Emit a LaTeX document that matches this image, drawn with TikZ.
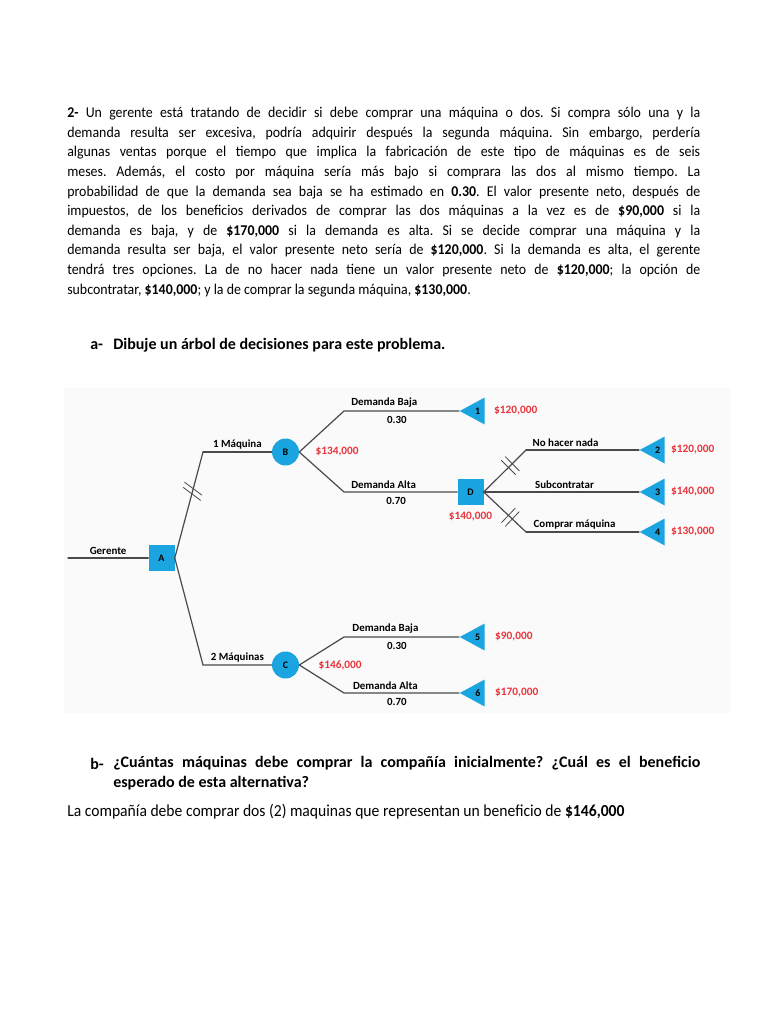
\documentclass[tikz,border=0pt]{standalone}
\usepackage{fontspec}
\setmainfont{Carlito}
\newfontfamily\condfont{Carlito}[FakeStretch=0.93]
\usetikzlibrary{positioning,shapes.geometric,decorations.markings}

\definecolor{nodeblue}{HTML}{1BA5E0}
\definecolor{valred}{HTML}{E8353D}
\definecolor{wire}{HTML}{4A4A4A}
\definecolor{panelgray}{HTML}{FAFAFA}

\tolerance=10000
\hyphenpenalty=10000
\frenchspacing

\tikzset{
  body/.style={font=\condfont\fontsize{11.2}{14.7}\selectfont, inner sep=0pt},
  heading/.style={font=\bfseries\fontsize{12}{15}\selectfont, inner sep=0pt},
  branch/.style={draw=wire, line width=0.9pt, line cap=round},
  decision/.style={rectangle, fill=nodeblue, minimum size=19.5pt, inner sep=0pt,
    font=\bfseries\fontsize{7.5}{9}\selectfont},
  chance/.style={circle, fill=nodeblue, minimum size=20.25pt, inner sep=0pt,
    font=\bfseries\fontsize{7.5}{9}\selectfont},
  payoff/.style={isosceles triangle, shape border rotate=180, isosceles triangle stretches,
    minimum width=20.25pt, minimum height=18.75pt, inner sep=0pt, fill=nodeblue, anchor=apex,
    font=\bfseries\fontsize{7.5}{9}\selectfont},
  lbl/.style={font=\bfseries\fontsize{8.2}{10}\selectfont, inner sep=2pt},
  val/.style={font=\bfseries\fontsize{8.5}{10}\selectfont, text=valred, inner sep=0pt},
  cutmark/.style={postaction={decorate, decoration={markings, mark=at position 0.63 with {
    \draw[wire, line width=0.6pt] (-2pt-#1,-7.5pt) -- (-2pt+#1,7.5pt)
      (2pt-#1,-7.5pt) -- (2pt+#1,7.5pt);}}}},
  cutmark/.default=0pt
}

\begin{document}
\begin{tikzpicture}[x=0.75pt, y=-0.75pt]
  % Page
  \fill[white] (0,0) rectangle (768,1024);
  \useasboundingbox (0,0) rectangle (768,1024);

  % Problem statement
  \node[body, anchor=north west, text width=474.75pt, align=justify] (enunciado) at (67,107) {%
    \textbf{2-} Un gerente está tratando de decidir si debe comprar una máquina o dos. Si compra sólo una y la\linebreak
    demanda resulta ser excesiva, podría adquirir después la segunda máquina. Sin embargo, perdería\linebreak
    algunas ventas porque el tiempo que implica la fabricación de este tipo de máquinas es de seis\linebreak
    meses. Además, el costo por máquina sería más bajo si comprara las dos al mismo tiempo. La\linebreak
    probabilidad de que la demanda sea baja se ha estimado en \textbf{0.30}. El valor presente neto, después de\linebreak
    impuestos, de los beneficios derivados de comprar las dos máquinas a la vez es de \textbf{\$90,000} si la\linebreak
    demanda es baja, y de \textbf{\$170,000} si la demanda es alta. Si se decide comprar una máquina y la\linebreak
    demanda resulta ser baja, el valor presente neto sería de \textbf{\$120,000}. Si la demanda es alta, el gerente\linebreak
    tendrá tres opciones. La de no hacer nada tiene un valor presente neto de \textbf{\$120,000}; la opción de\linebreak
    subcontratar, \textbf{\$140,000}; y la de comprar la segunda máquina, \textbf{\$130,000}.};

  % Part a
  \node[heading, anchor=base west] (parta) at (90,349) {a-};
  \node[heading, anchor=base west] (titulo) at (113,349) {Dibuje un árbol de decisiones para este problema.};

  % Tree panel
  \fill[panelgray] (64,388) rectangle (730,713);

  % Decision node A
  \node[decision] (A) at (161.5,558) {A};
  \coordinate (inicio) at (68,558);
  \draw[branch] (inicio) -- (A.west) node[lbl, midway, above] {Gerente};

  % One or two machines
  \coordinate (jB) at (203,452);
  \coordinate (jC) at (203,665);
  \node[chance] (B) at (285.5,452) {B};
  \node[chance] (C) at (285.5,665) {C};
  \draw[branch, cutmark=3pt] (A.east) -- (jB);
  \draw[branch] (jB) -- (B.west) node[lbl, midway, above] {1 Máquina};
  \draw[branch] (A.east) -- (jC) -- (C.west) node[lbl, midway, above] {2 Máquinas};

  % Chance node B
  \coordinate (kB1) at (344,411);
  \coordinate (kB2) at (344,492);
  \node[payoff] (t1) at (459,411) {1};
  \node[decision] (D) at (470.5,492) {D};
  \draw[branch] (B.east) -- (kB1) -- (t1.apex)
    node[lbl, pos=.35, above] {Demanda Baja} node[lbl, pos=.46, below=1.5pt] {0.30};
  \draw[branch] (B.east) -- (kB2) -- (D.west)
    node[lbl, pos=.35, above] {Demanda Alta} node[lbl, pos=.46, below=1.5pt] {0.70};
  \node[val, right=12pt of B] (vB) {\$134,000};
  \node[val, right=6.75pt of t1] (v1) {\$120,000};
  \node[val, below=5pt of D] (vD) {\$140,000};

  % Decision node D
  \coordinate (kD1) at (526,450);
  \coordinate (kD3) at (526,532);
  \node[payoff] (t2) at (639,450) {2};
  \node[payoff] (t3) at (639,492) {3};
  \node[payoff] (t4) at (639,532) {4};
  \draw[branch, cutmark] (D.east) -- (kD1);
  \draw[branch] (kD1) -- (t2.apex) node[lbl, pos=.35, above] {No hacer nada};
  \draw[branch] (D.east) -- (t3.apex) node[lbl, pos=.52, above] {Subcontratar};
  \draw[branch, cutmark] (D.east) -- (kD3);
  \draw[branch] (kD3) -- (t4.apex) node[lbl, pos=.43, above] {Comprar máquina};
  \node[val, right=4.5pt of t2] (v2) {\$120,000};
  \node[val, right=4.5pt of t3] (v3) {\$140,000};
  \node[val, right=4.5pt of t4] (v4) {\$130,000};

  % Chance node C
  \coordinate (kC1) at (344,637);
  \coordinate (kC2) at (344,693);
  \node[payoff] (t5) at (459,637) {5};
  \node[payoff] (t6) at (459,693) {6};
  \draw[branch] (C.east) -- (kC1) -- (t5.apex)
    node[lbl, pos=.36, above] {Demanda Baja} node[lbl, pos=.46, below=1.5pt] {0.30};
  \draw[branch] (C.east) -- (kC2) -- (t6.apex)
    node[lbl, pos=.36, above] {Demanda Alta} node[lbl, pos=.46, below=1.5pt] {0.70};
  \node[val, right=14.25pt of C] (vC) {\$146,000};
  \node[val, right=7.5pt of t5] (v5) {\$90,000};
  \node[val, right=7.5pt of t6] (v6) {\$170,000};

  % Part b
  \node[heading, anchor=base west] (partb) at (90,769) {b-};
  \node[heading, anchor=north west, text width=440.25pt, align=justify] (preguntab) at (113,756) {%
    ¿Cuántas máquinas debe comprar la compañía inicialmente? ¿Cuál es el beneficio\linebreak
    esperado de esta alternativa?};

  % Answer
  \node[body, font=\condfont\fontsize{12.6}{14}\selectfont, anchor=base west] (respuesta) at (67,816)
    {La compañía debe comprar dos (2) maquinas que representan un beneficio de \textbf{\$146,000}};
\end{tikzpicture}
\end{document}
